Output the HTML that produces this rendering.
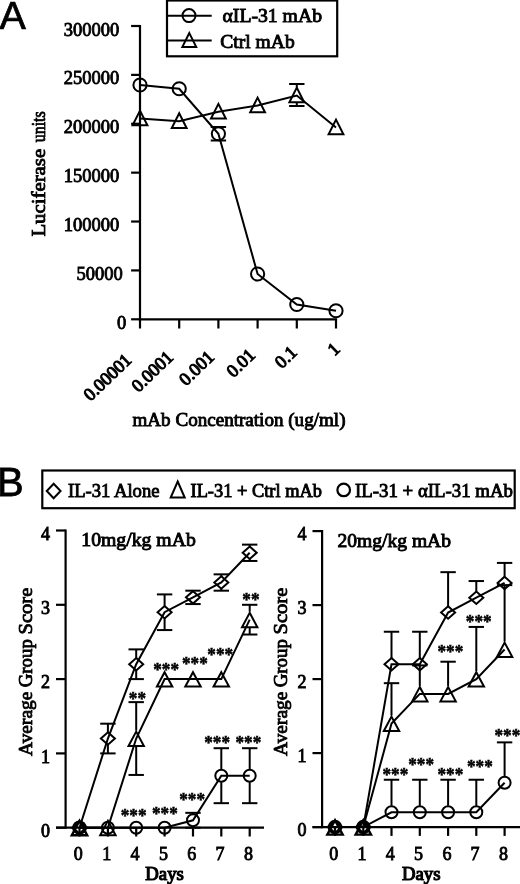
<!DOCTYPE html>
<html lang="en">
<head>
<meta charset="utf-8">
<title>Figure</title>
<style>
html,body{margin:0;padding:0;background:#fff;}
body{width:520px;height:884px;overflow:hidden;}
svg{display:block;}
</style>
</head>
<body>
<svg width="520" height="884" viewBox="0 0 520 884" stroke="#000" fill="none" stroke-linecap="butt">
<rect x="0" y="0" width="520" height="884" fill="#fff" stroke="none"/>

<text x="-0.5" y="29.3" font-family='"Liberation Sans", sans-serif' font-size="39.5" fill="#000" stroke="#000" stroke-width="0.7">A</text>
<text x="-3.1" y="496.3" font-family='"Liberation Sans", sans-serif' font-size="40" fill="#000" stroke="#000" stroke-width="0.8">B</text>
<line x1="140.00" y1="24.90" x2="140.00" y2="320.40" stroke-width="2.2"/>
<line x1="138.90" y1="319.30" x2="337.10" y2="319.30" stroke-width="2.2"/>
<line x1="131.10" y1="26.00" x2="140.00" y2="26.00" stroke-width="2.2"/>
<text x="119.30" y="35.50" font-family='"Liberation Serif", serif' font-size="18.5" font-weight="normal" text-anchor="end" fill="#000" stroke="#000" stroke-width="0.85">300000</text>
<line x1="131.10" y1="74.88" x2="140.00" y2="74.88" stroke-width="2.2"/>
<text x="119.30" y="84.38" font-family='"Liberation Serif", serif' font-size="18.5" font-weight="normal" text-anchor="end" fill="#000" stroke="#000" stroke-width="0.85">250000</text>
<line x1="131.10" y1="123.77" x2="140.00" y2="123.77" stroke-width="2.2"/>
<text x="119.30" y="133.27" font-family='"Liberation Serif", serif' font-size="18.5" font-weight="normal" text-anchor="end" fill="#000" stroke="#000" stroke-width="0.85">200000</text>
<line x1="131.10" y1="172.65" x2="140.00" y2="172.65" stroke-width="2.2"/>
<text x="119.30" y="182.15" font-family='"Liberation Serif", serif' font-size="18.5" font-weight="normal" text-anchor="end" fill="#000" stroke="#000" stroke-width="0.85">150000</text>
<line x1="131.10" y1="221.53" x2="140.00" y2="221.53" stroke-width="2.2"/>
<text x="119.30" y="231.03" font-family='"Liberation Serif", serif' font-size="18.5" font-weight="normal" text-anchor="end" fill="#000" stroke="#000" stroke-width="0.85">100000</text>
<line x1="131.10" y1="270.42" x2="140.00" y2="270.42" stroke-width="2.2"/>
<text x="122.80" y="279.92" font-family='"Liberation Serif", serif' font-size="18.5" font-weight="normal" text-anchor="end" fill="#000" stroke="#000" stroke-width="0.85">50000</text>
<line x1="131.10" y1="319.30" x2="140.00" y2="319.30" stroke-width="2.2"/>
<text x="126.20" y="328.80" font-family='"Liberation Serif", serif' font-size="18.5" font-weight="normal" text-anchor="end" fill="#000" stroke="#000" stroke-width="0.85">0</text>
<line x1="140.00" y1="319.30" x2="140.00" y2="328.50" stroke-width="2.2"/>
<line x1="179.20" y1="319.30" x2="179.20" y2="328.50" stroke-width="2.2"/>
<line x1="218.40" y1="319.30" x2="218.40" y2="328.50" stroke-width="2.2"/>
<line x1="257.60" y1="319.30" x2="257.60" y2="328.50" stroke-width="2.2"/>
<line x1="296.80" y1="319.30" x2="296.80" y2="328.50" stroke-width="2.2"/>
<line x1="336.00" y1="319.30" x2="336.00" y2="328.50" stroke-width="2.2"/>
<text transform="translate(107.3,377.1) rotate(-44)" x="0" y="6.1" font-family='"Liberation Serif", serif' font-size="18" text-anchor="middle" fill="#000" stroke="#000" stroke-width="1.1">0.00001</text>
<text transform="translate(152.1,371.3) rotate(-44)" x="0" y="6.1" font-family='"Liberation Serif", serif' font-size="18" text-anchor="middle" fill="#000" stroke="#000" stroke-width="1.1">0.0001</text>
<text transform="translate(196.3,368.0) rotate(-44)" x="0" y="6.1" font-family='"Liberation Serif", serif' font-size="18" text-anchor="middle" fill="#000" stroke="#000" stroke-width="1.1">0.001</text>
<text transform="translate(240.6,362.9) rotate(-44)" x="0" y="6.1" font-family='"Liberation Serif", serif' font-size="18" text-anchor="middle" fill="#000" stroke="#000" stroke-width="1.1">0.01</text>
<text transform="translate(285.6,357.0) rotate(-44)" x="0" y="6.1" font-family='"Liberation Serif", serif' font-size="18" text-anchor="middle" fill="#000" stroke="#000" stroke-width="1.1">0.1</text>
<text transform="translate(333.5,349.0) rotate(-44)" x="0" y="6.1" font-family='"Liberation Serif", serif' font-size="18" text-anchor="middle" fill="#000" stroke="#000" stroke-width="1.1">1</text>
<text x="132.50" y="426.00" font-family='"Liberation Serif", serif' font-size="18" font-weight="normal" text-anchor="start" fill="#000" stroke="#000" stroke-width="0.85" textLength="213" lengthAdjust="spacingAndGlyphs">mAb Concentration (ug/ml)</text>
<text transform="translate(45.2,236.6) rotate(-90)" font-family='"Liberation Serif", serif' font-size="19.5" fill="#000" stroke="#000" stroke-width="0.85" textLength="87.8" lengthAdjust="spacingAndGlyphs">Luciferase</text>
<text transform="translate(45.2,142.3) rotate(-90)" font-family='"Liberation Serif", serif' font-size="19.5" fill="#000" stroke="#000" stroke-width="0.85" textLength="31.0" lengthAdjust="spacingAndGlyphs">units</text>
<polyline points="140.00,85.00 179.20,88.75 218.40,133.75 257.60,274.00 296.80,304.50 336.00,310.75" fill="none" stroke-width="2.0"/>
<line x1="210.70" y1="127.00" x2="226.10" y2="127.00" stroke-width="2.0"/>
<line x1="210.70" y1="140.50" x2="226.10" y2="140.50" stroke-width="2.0"/>
<circle cx="140.00" cy="85.00" r="6.6" fill="none" stroke-width="2.0"/>
<circle cx="179.20" cy="88.75" r="6.6" fill="none" stroke-width="2.0"/>
<circle cx="218.40" cy="133.75" r="6.6" fill="none" stroke-width="2.0"/>
<circle cx="257.60" cy="274.00" r="6.6" fill="none" stroke-width="2.0"/>
<circle cx="296.80" cy="304.50" r="6.6" fill="none" stroke-width="2.0"/>
<circle cx="336.00" cy="310.75" r="6.6" fill="none" stroke-width="2.0"/>
<polyline points="140.00,118.50 179.20,121.20 218.40,111.80 257.60,105.50 296.80,95.50 336.00,127.50" fill="none" stroke-width="2.0"/>
<line x1="296.80" y1="84.00" x2="296.80" y2="87.50" stroke-width="2.0"/>
<line x1="296.80" y1="102.50" x2="296.80" y2="106.00" stroke-width="2.0"/>
<line x1="289.10" y1="84.00" x2="304.50" y2="84.00" stroke-width="2.0"/>
<line x1="289.10" y1="106.00" x2="304.50" y2="106.00" stroke-width="2.0"/>
<polygon points="140.00,110.60 147.40,125.30 132.60,125.30" fill="none" stroke-width="2.0" stroke-linejoin="miter"/>
<polygon points="179.20,113.30 186.60,128.00 171.80,128.00" fill="none" stroke-width="2.0" stroke-linejoin="miter"/>
<polygon points="218.40,103.90 225.80,118.60 211.00,118.60" fill="none" stroke-width="2.0" stroke-linejoin="miter"/>
<polygon points="257.60,97.60 265.00,112.30 250.20,112.30" fill="none" stroke-width="2.0" stroke-linejoin="miter"/>
<polygon points="296.80,87.60 304.20,102.30 289.40,102.30" fill="none" stroke-width="2.0" stroke-linejoin="miter"/>
<polygon points="336.00,119.60 343.40,134.30 328.60,134.30" fill="none" stroke-width="2.0" stroke-linejoin="miter"/>
<rect x="167" y="0.5" width="170.2" height="55.8" fill="#fff" stroke-width="2.2"/>
<line x1="167.00" y1="15.80" x2="211.70" y2="15.80" stroke-width="2.0"/>
<circle cx="189.00" cy="15.60" r="6.5" fill="none" stroke-width="2.0"/>
<line x1="167.00" y1="40.50" x2="211.70" y2="40.50" stroke-width="2.0"/>
<polygon points="189.30,33.10 196.20,46.90 182.40,46.90" fill="none" stroke-width="2.0" stroke-linejoin="miter"/>
<text x="222.50" y="22.20" font-family='"Liberation Serif", serif' font-size="18" font-weight="normal" text-anchor="start" fill="#000" stroke="#000" stroke-width="0.85" textLength="99.5" lengthAdjust="spacingAndGlyphs">&#945;IL-31 mAb</text>
<text x="220.20" y="47.50" font-family='"Liberation Serif", serif' font-size="18" font-weight="normal" text-anchor="start" fill="#000" stroke="#000" stroke-width="0.85" textLength="74.5" lengthAdjust="spacingAndGlyphs">Ctrl mAb</text>
<rect x="42.3" y="470.5" width="472.4" height="37.7" fill="#fff" stroke-width="2.2"/>
<polygon points="53.65,483.80 60.55,491.00 53.65,498.20 46.75,491.00" fill="none" stroke-width="2.0" stroke-linejoin="miter"/>
<text x="68.00" y="496.50" font-family='"Liberation Serif", serif' font-size="18" font-weight="normal" text-anchor="start" fill="#000" stroke="#000" stroke-width="0.85" textLength="91.5" lengthAdjust="spacingAndGlyphs">IL-31 Alone</text>
<polygon points="177.70,481.50 184.70,497.50 170.70,497.50" fill="none" stroke-width="2.0" stroke-linejoin="miter"/>
<text x="190.50" y="496.50" font-family='"Liberation Serif", serif' font-size="18" font-weight="normal" text-anchor="start" fill="#000" stroke="#000" stroke-width="0.85" textLength="131.5" lengthAdjust="spacingAndGlyphs">IL-31 + Ctrl mAb</text>
<circle cx="343.70" cy="489.90" r="6.3" fill="none" stroke-width="2.2"/>
<text x="355.00" y="496.50" font-family='"Liberation Serif", serif' font-size="18" font-weight="normal" text-anchor="start" fill="#000" stroke="#000" stroke-width="0.85" textLength="158" lengthAdjust="spacingAndGlyphs">IL-31 + &#945;IL-31 mAb</text>
<line x1="65.60" y1="529.40" x2="65.60" y2="828.80" stroke-width="2.2"/>
<line x1="56.00" y1="827.70" x2="65.60" y2="827.70" stroke-width="2.2"/>
<text x="50.10" y="837.00" font-family='"Liberation Serif", serif' font-size="18" font-weight="normal" text-anchor="end" fill="#000" stroke="#000" stroke-width="0.85">0</text>
<line x1="56.00" y1="753.40" x2="65.60" y2="753.40" stroke-width="2.2"/>
<text x="50.10" y="762.70" font-family='"Liberation Serif", serif' font-size="18" font-weight="normal" text-anchor="end" fill="#000" stroke="#000" stroke-width="0.85">1</text>
<line x1="56.00" y1="679.10" x2="65.60" y2="679.10" stroke-width="2.2"/>
<text x="50.10" y="688.40" font-family='"Liberation Serif", serif' font-size="18" font-weight="normal" text-anchor="end" fill="#000" stroke="#000" stroke-width="0.85">2</text>
<line x1="56.00" y1="604.80" x2="65.60" y2="604.80" stroke-width="2.2"/>
<text x="50.10" y="614.10" font-family='"Liberation Serif", serif' font-size="18" font-weight="normal" text-anchor="end" fill="#000" stroke="#000" stroke-width="0.85">3</text>
<line x1="56.00" y1="530.50" x2="65.60" y2="530.50" stroke-width="2.2"/>
<text x="50.10" y="539.80" font-family='"Liberation Serif", serif' font-size="18" font-weight="normal" text-anchor="end" fill="#000" stroke="#000" stroke-width="0.85">4</text>
<text x="81.30" y="545.90" font-family='"Liberation Serif", serif' font-size="18" font-weight="normal" text-anchor="start" fill="#000" stroke="#000" stroke-width="0.85" textLength="114.5" lengthAdjust="spacingAndGlyphs">10mg/kg mAb</text>
<text transform="translate(32.2,755.9) rotate(-90)" font-family='"Liberation Serif", serif' font-size="19.5" fill="#000" stroke="#000" stroke-width="0.85" textLength="64.2" lengthAdjust="spacingAndGlyphs">Average</text>
<text transform="translate(32.2,687.2) rotate(-90)" font-family='"Liberation Serif", serif' font-size="19.5" fill="#000" stroke="#000" stroke-width="0.85" textLength="48.0" lengthAdjust="spacingAndGlyphs">Group</text>
<text transform="translate(32.2,634.4) rotate(-90)" font-family='"Liberation Serif", serif' font-size="19.5" fill="#000" stroke="#000" stroke-width="0.85" textLength="46.7" lengthAdjust="spacingAndGlyphs">Score</text>
<text x="78.30" y="859.60" font-family='"Liberation Serif", serif' font-size="18" font-weight="normal" text-anchor="middle" fill="#000" stroke="#000" stroke-width="0.85">0</text>
<text x="106.70" y="859.60" font-family='"Liberation Serif", serif' font-size="18" font-weight="normal" text-anchor="middle" fill="#000" stroke="#000" stroke-width="0.85">1</text>
<text x="135.00" y="859.60" font-family='"Liberation Serif", serif' font-size="18" font-weight="normal" text-anchor="middle" fill="#000" stroke="#000" stroke-width="0.85">4</text>
<text x="163.40" y="859.60" font-family='"Liberation Serif", serif' font-size="18" font-weight="normal" text-anchor="middle" fill="#000" stroke="#000" stroke-width="0.85">5</text>
<text x="191.80" y="859.60" font-family='"Liberation Serif", serif' font-size="18" font-weight="normal" text-anchor="middle" fill="#000" stroke="#000" stroke-width="0.85">6</text>
<text x="220.10" y="859.60" font-family='"Liberation Serif", serif' font-size="18" font-weight="normal" text-anchor="middle" fill="#000" stroke="#000" stroke-width="0.85">7</text>
<text x="248.50" y="859.60" font-family='"Liberation Serif", serif' font-size="18" font-weight="normal" text-anchor="middle" fill="#000" stroke="#000" stroke-width="0.85">8</text>
<text x="164.60" y="879.50" font-family='"Liberation Serif", serif' font-size="18" font-weight="normal" text-anchor="middle" fill="#000" stroke="#000" stroke-width="1.15" textLength="38.5" lengthAdjust="spacingAndGlyphs">Days</text>
<polyline points="79.50,827.70 107.90,738.54 136.20,664.24 164.60,612.23 193.00,597.37 221.30,582.51 249.70,552.79" fill="none" stroke-width="2.0"/>
<line x1="107.90" y1="723.68" x2="107.90" y2="732.24" stroke-width="2.0"/>
<line x1="107.90" y1="744.84" x2="107.90" y2="753.40" stroke-width="2.0"/>
<line x1="100.20" y1="723.68" x2="115.60" y2="723.68" stroke-width="2.0"/>
<line x1="100.20" y1="753.40" x2="115.60" y2="753.40" stroke-width="2.0"/>
<line x1="136.20" y1="649.38" x2="136.20" y2="657.94" stroke-width="2.0"/>
<line x1="136.20" y1="670.54" x2="136.20" y2="679.10" stroke-width="2.0"/>
<line x1="128.50" y1="649.38" x2="143.90" y2="649.38" stroke-width="2.0"/>
<line x1="128.50" y1="679.10" x2="143.90" y2="679.10" stroke-width="2.0"/>
<line x1="164.60" y1="594.40" x2="164.60" y2="605.93" stroke-width="2.0"/>
<line x1="164.60" y1="618.53" x2="164.60" y2="630.06" stroke-width="2.0"/>
<line x1="156.90" y1="594.40" x2="172.30" y2="594.40" stroke-width="2.0"/>
<line x1="156.90" y1="630.06" x2="172.30" y2="630.06" stroke-width="2.0"/>
<line x1="193.00" y1="590.68" x2="193.00" y2="591.07" stroke-width="2.0"/>
<line x1="193.00" y1="603.67" x2="193.00" y2="604.06" stroke-width="2.0"/>
<line x1="185.30" y1="590.68" x2="200.70" y2="590.68" stroke-width="2.0"/>
<line x1="185.30" y1="604.06" x2="200.70" y2="604.06" stroke-width="2.0"/>
<line x1="221.30" y1="574.34" x2="221.30" y2="576.21" stroke-width="2.0"/>
<line x1="221.30" y1="588.81" x2="221.30" y2="590.68" stroke-width="2.0"/>
<line x1="213.60" y1="574.34" x2="229.00" y2="574.34" stroke-width="2.0"/>
<line x1="213.60" y1="590.68" x2="229.00" y2="590.68" stroke-width="2.0"/>
<line x1="249.70" y1="544.62" x2="249.70" y2="546.49" stroke-width="2.0"/>
<line x1="249.70" y1="559.09" x2="249.70" y2="560.96" stroke-width="2.0"/>
<line x1="242.00" y1="544.62" x2="257.40" y2="544.62" stroke-width="2.0"/>
<line x1="242.00" y1="560.96" x2="257.40" y2="560.96" stroke-width="2.0"/>
<polygon points="79.50,821.50 86.50,827.70 79.50,833.90 72.50,827.70" fill="none" stroke-width="2.5" stroke-linejoin="miter"/>
<polygon points="107.90,732.34 114.90,738.54 107.90,744.74 100.90,738.54" fill="none" stroke-width="2.0" stroke-linejoin="miter"/>
<polygon points="136.20,658.04 143.20,664.24 136.20,670.44 129.20,664.24" fill="none" stroke-width="2.0" stroke-linejoin="miter"/>
<polygon points="164.60,606.03 171.60,612.23 164.60,618.43 157.60,612.23" fill="none" stroke-width="2.0" stroke-linejoin="miter"/>
<polygon points="193.00,591.17 200.00,597.37 193.00,603.57 186.00,597.37" fill="none" stroke-width="2.0" stroke-linejoin="miter"/>
<polygon points="221.30,576.31 228.30,582.51 221.30,588.71 214.30,582.51" fill="none" stroke-width="2.0" stroke-linejoin="miter"/>
<polygon points="249.70,546.59 256.70,552.79 249.70,558.99 242.70,552.79" fill="none" stroke-width="2.0" stroke-linejoin="miter"/>
<polyline points="79.50,827.70 107.90,827.70 136.20,738.54 164.60,679.10 193.00,679.10 221.30,679.10 249.70,619.66" fill="none" stroke-width="2.0"/>
<line x1="136.20" y1="702.13" x2="136.20" y2="730.54" stroke-width="2.0"/>
<line x1="136.20" y1="746.54" x2="136.20" y2="774.95" stroke-width="2.0"/>
<line x1="128.50" y1="702.13" x2="143.90" y2="702.13" stroke-width="2.0"/>
<line x1="128.50" y1="774.95" x2="143.90" y2="774.95" stroke-width="2.0"/>
<line x1="249.70" y1="604.80" x2="249.70" y2="611.66" stroke-width="2.0"/>
<line x1="249.70" y1="627.66" x2="249.70" y2="634.52" stroke-width="2.0"/>
<line x1="242.00" y1="604.80" x2="257.40" y2="604.80" stroke-width="2.0"/>
<line x1="242.00" y1="634.52" x2="257.40" y2="634.52" stroke-width="2.0"/>
<polygon points="79.50,820.80 87.20,835.20 71.80,835.20" fill="none" stroke-width="2.4" stroke-linejoin="miter"/>
<polygon points="107.90,820.80 115.60,835.20 100.20,835.20" fill="none" stroke-width="2.0" stroke-linejoin="miter"/>
<polygon points="136.20,731.64 143.90,746.04 128.50,746.04" fill="none" stroke-width="2.0" stroke-linejoin="miter"/>
<polygon points="164.60,672.20 172.30,686.60 156.90,686.60" fill="none" stroke-width="2.0" stroke-linejoin="miter"/>
<polygon points="193.00,672.20 200.70,686.60 185.30,686.60" fill="none" stroke-width="2.0" stroke-linejoin="miter"/>
<polygon points="221.30,672.20 229.00,686.60 213.60,686.60" fill="none" stroke-width="2.0" stroke-linejoin="miter"/>
<polygon points="249.70,612.76 257.40,627.16 242.00,627.16" fill="none" stroke-width="2.0" stroke-linejoin="miter"/>
<polyline points="79.50,827.70 107.90,827.70 136.20,827.70 164.60,827.70 193.00,820.27 221.30,775.69 249.70,775.69" fill="none" stroke-width="2.0"/>
<line x1="193.00" y1="812.84" x2="193.00" y2="813.77" stroke-width="2.0"/>
<line x1="193.00" y1="826.77" x2="193.00" y2="827.70" stroke-width="2.0"/>
<line x1="185.30" y1="812.84" x2="200.70" y2="812.84" stroke-width="2.0"/>
<line x1="185.30" y1="827.70" x2="200.70" y2="827.70" stroke-width="2.0"/>
<line x1="221.30" y1="748.20" x2="221.30" y2="769.19" stroke-width="2.0"/>
<line x1="221.30" y1="782.19" x2="221.30" y2="803.18" stroke-width="2.0"/>
<line x1="213.60" y1="748.20" x2="229.00" y2="748.20" stroke-width="2.0"/>
<line x1="213.60" y1="803.18" x2="229.00" y2="803.18" stroke-width="2.0"/>
<line x1="249.70" y1="748.20" x2="249.70" y2="769.19" stroke-width="2.0"/>
<line x1="249.70" y1="782.19" x2="249.70" y2="803.18" stroke-width="2.0"/>
<line x1="242.00" y1="748.20" x2="257.40" y2="748.20" stroke-width="2.0"/>
<line x1="242.00" y1="803.18" x2="257.40" y2="803.18" stroke-width="2.0"/>
<circle cx="79.50" cy="827.70" r="6.0" fill="none" stroke-width="2.5"/>
<circle cx="107.90" cy="827.70" r="6.0" fill="none" stroke-width="2.0"/>
<circle cx="136.20" cy="827.70" r="6.0" fill="none" stroke-width="2.0"/>
<circle cx="164.60" cy="827.70" r="6.0" fill="none" stroke-width="2.0"/>
<circle cx="193.00" cy="820.27" r="6.0" fill="none" stroke-width="2.0"/>
<circle cx="221.30" cy="775.69" r="6.0" fill="none" stroke-width="2.0"/>
<circle cx="249.70" cy="775.69" r="6.0" fill="none" stroke-width="2.0"/>
<line x1="56.00" y1="827.70" x2="264.00" y2="827.70" stroke-width="2.2"/>
<line x1="79.50" y1="827.70" x2="79.50" y2="836.50" stroke-width="2.2"/>
<line x1="107.90" y1="827.70" x2="107.90" y2="836.50" stroke-width="2.2"/>
<line x1="136.20" y1="827.70" x2="136.20" y2="836.50" stroke-width="2.2"/>
<line x1="164.60" y1="827.70" x2="164.60" y2="836.50" stroke-width="2.2"/>
<line x1="193.00" y1="827.70" x2="193.00" y2="836.50" stroke-width="2.2"/>
<line x1="221.30" y1="827.70" x2="221.30" y2="836.50" stroke-width="2.2"/>
<line x1="249.70" y1="827.70" x2="249.70" y2="836.50" stroke-width="2.2"/>
<text x="128.80" y="704.50" font-family='"Liberation Serif", serif' font-size="18" font-weight="bold" text-anchor="start" fill="#000" stroke="#000" stroke-width="0.5" textLength="17.2" lengthAdjust="spacingAndGlyphs">**</text>
<text x="153.20" y="675.50" font-family='"Liberation Serif", serif' font-size="18" font-weight="bold" text-anchor="start" fill="#000" stroke="#000" stroke-width="0.5" textLength="25.799999999999997" lengthAdjust="spacingAndGlyphs">***</text>
<text x="182.00" y="670.00" font-family='"Liberation Serif", serif' font-size="18" font-weight="bold" text-anchor="start" fill="#000" stroke="#000" stroke-width="0.5" textLength="25.799999999999997" lengthAdjust="spacingAndGlyphs">***</text>
<text x="207.30" y="660.50" font-family='"Liberation Serif", serif' font-size="18" font-weight="bold" text-anchor="start" fill="#000" stroke="#000" stroke-width="0.5" textLength="25.799999999999997" lengthAdjust="spacingAndGlyphs">***</text>
<text x="242.30" y="605.50" font-family='"Liberation Serif", serif' font-size="18" font-weight="bold" text-anchor="start" fill="#000" stroke="#000" stroke-width="0.5" textLength="17.2" lengthAdjust="spacingAndGlyphs">**</text>
<text x="120.70" y="821.50" font-family='"Liberation Serif", serif' font-size="18" font-weight="bold" text-anchor="start" fill="#000" stroke="#000" stroke-width="0.5" textLength="25.799999999999997" lengthAdjust="spacingAndGlyphs">***</text>
<text x="152.00" y="819.50" font-family='"Liberation Serif", serif' font-size="18" font-weight="bold" text-anchor="start" fill="#000" stroke="#000" stroke-width="0.5" textLength="25.799999999999997" lengthAdjust="spacingAndGlyphs">***</text>
<text x="179.20" y="805.50" font-family='"Liberation Serif", serif' font-size="18" font-weight="bold" text-anchor="start" fill="#000" stroke="#000" stroke-width="0.5" textLength="25.799999999999997" lengthAdjust="spacingAndGlyphs">***</text>
<text x="204.20" y="748.50" font-family='"Liberation Serif", serif' font-size="18" font-weight="bold" text-anchor="start" fill="#000" stroke="#000" stroke-width="0.5" textLength="25.799999999999997" lengthAdjust="spacingAndGlyphs">***</text>
<text x="235.50" y="748.50" font-family='"Liberation Serif", serif' font-size="18" font-weight="bold" text-anchor="start" fill="#000" stroke="#000" stroke-width="0.5" textLength="25.799999999999997" lengthAdjust="spacingAndGlyphs">***</text>
<line x1="322.10" y1="530.00" x2="322.10" y2="828.20" stroke-width="2.2"/>
<line x1="312.50" y1="827.10" x2="322.10" y2="827.10" stroke-width="2.2"/>
<text x="306.60" y="836.40" font-family='"Liberation Serif", serif' font-size="18" font-weight="normal" text-anchor="end" fill="#000" stroke="#000" stroke-width="0.85">0</text>
<line x1="312.50" y1="753.10" x2="322.10" y2="753.10" stroke-width="2.2"/>
<text x="306.60" y="762.40" font-family='"Liberation Serif", serif' font-size="18" font-weight="normal" text-anchor="end" fill="#000" stroke="#000" stroke-width="0.85">1</text>
<line x1="312.50" y1="679.10" x2="322.10" y2="679.10" stroke-width="2.2"/>
<text x="306.60" y="688.40" font-family='"Liberation Serif", serif' font-size="18" font-weight="normal" text-anchor="end" fill="#000" stroke="#000" stroke-width="0.85">2</text>
<line x1="312.50" y1="605.10" x2="322.10" y2="605.10" stroke-width="2.2"/>
<text x="306.60" y="614.40" font-family='"Liberation Serif", serif' font-size="18" font-weight="normal" text-anchor="end" fill="#000" stroke="#000" stroke-width="0.85">3</text>
<line x1="312.50" y1="531.10" x2="322.10" y2="531.10" stroke-width="2.2"/>
<text x="306.60" y="540.40" font-family='"Liberation Serif", serif' font-size="18" font-weight="normal" text-anchor="end" fill="#000" stroke="#000" stroke-width="0.85">4</text>
<text x="337.50" y="546.50" font-family='"Liberation Serif", serif' font-size="18" font-weight="normal" text-anchor="start" fill="#000" stroke="#000" stroke-width="0.85" textLength="113.5" lengthAdjust="spacingAndGlyphs">20mg/kg mAb</text>
<text transform="translate(287.2,755.9) rotate(-90)" font-family='"Liberation Serif", serif' font-size="19.5" fill="#000" stroke="#000" stroke-width="0.85" textLength="64.2" lengthAdjust="spacingAndGlyphs">Average</text>
<text transform="translate(287.2,687.2) rotate(-90)" font-family='"Liberation Serif", serif' font-size="19.5" fill="#000" stroke="#000" stroke-width="0.85" textLength="48.0" lengthAdjust="spacingAndGlyphs">Group</text>
<text transform="translate(287.2,634.4) rotate(-90)" font-family='"Liberation Serif", serif' font-size="19.5" fill="#000" stroke="#000" stroke-width="0.85" textLength="46.7" lengthAdjust="spacingAndGlyphs">Score</text>
<text x="333.80" y="859.60" font-family='"Liberation Serif", serif' font-size="18" font-weight="normal" text-anchor="middle" fill="#000" stroke="#000" stroke-width="0.85">0</text>
<text x="362.10" y="859.60" font-family='"Liberation Serif", serif' font-size="18" font-weight="normal" text-anchor="middle" fill="#000" stroke="#000" stroke-width="0.85">1</text>
<text x="390.30" y="859.60" font-family='"Liberation Serif", serif' font-size="18" font-weight="normal" text-anchor="middle" fill="#000" stroke="#000" stroke-width="0.85">4</text>
<text x="418.60" y="859.60" font-family='"Liberation Serif", serif' font-size="18" font-weight="normal" text-anchor="middle" fill="#000" stroke="#000" stroke-width="0.85">5</text>
<text x="446.90" y="859.60" font-family='"Liberation Serif", serif' font-size="18" font-weight="normal" text-anchor="middle" fill="#000" stroke="#000" stroke-width="0.85">6</text>
<text x="475.10" y="859.60" font-family='"Liberation Serif", serif' font-size="18" font-weight="normal" text-anchor="middle" fill="#000" stroke="#000" stroke-width="0.85">7</text>
<text x="503.40" y="859.60" font-family='"Liberation Serif", serif' font-size="18" font-weight="normal" text-anchor="middle" fill="#000" stroke="#000" stroke-width="0.85">8</text>
<text x="421.20" y="879.50" font-family='"Liberation Serif", serif' font-size="18" font-weight="normal" text-anchor="middle" fill="#000" stroke="#000" stroke-width="1.15" textLength="38.5" lengthAdjust="spacingAndGlyphs">Days</text>
<polyline points="335.00,827.10 363.30,827.10 391.50,664.30 419.80,664.30 448.10,612.50 476.30,597.70 504.60,582.90" fill="none" stroke-width="2.0"/>
<line x1="391.50" y1="631.74" x2="391.50" y2="658.00" stroke-width="2.0"/>
<line x1="383.80" y1="631.74" x2="399.20" y2="631.74" stroke-width="2.0"/>
<line x1="419.80" y1="631.74" x2="419.80" y2="658.00" stroke-width="2.0"/>
<line x1="412.10" y1="631.74" x2="427.50" y2="631.74" stroke-width="2.0"/>
<line x1="448.10" y1="572.17" x2="448.10" y2="606.20" stroke-width="2.0"/>
<line x1="440.40" y1="572.17" x2="455.80" y2="572.17" stroke-width="2.0"/>
<line x1="476.30" y1="581.05" x2="476.30" y2="591.40" stroke-width="2.0"/>
<line x1="468.60" y1="581.05" x2="484.00" y2="581.05" stroke-width="2.0"/>
<line x1="504.60" y1="562.92" x2="504.60" y2="576.60" stroke-width="2.0"/>
<line x1="496.90" y1="562.92" x2="512.30" y2="562.92" stroke-width="2.0"/>
<polygon points="335.00,820.90 342.00,827.10 335.00,833.30 328.00,827.10" fill="none" stroke-width="2.5" stroke-linejoin="miter"/>
<polygon points="363.30,820.90 370.30,827.10 363.30,833.30 356.30,827.10" fill="none" stroke-width="2.5" stroke-linejoin="miter"/>
<polygon points="391.50,658.10 398.50,664.30 391.50,670.50 384.50,664.30" fill="none" stroke-width="2.0" stroke-linejoin="miter"/>
<polygon points="419.80,658.10 426.80,664.30 419.80,670.50 412.80,664.30" fill="none" stroke-width="2.0" stroke-linejoin="miter"/>
<polygon points="448.10,606.30 455.10,612.50 448.10,618.70 441.10,612.50" fill="none" stroke-width="2.0" stroke-linejoin="miter"/>
<polygon points="476.30,591.50 483.30,597.70 476.30,603.90 469.30,597.70" fill="none" stroke-width="2.0" stroke-linejoin="miter"/>
<polygon points="504.60,576.70 511.60,582.90 504.60,589.10 497.60,582.90" fill="none" stroke-width="2.0" stroke-linejoin="miter"/>
<polyline points="335.00,827.10 363.30,827.10 391.50,723.50 419.80,693.90 448.10,693.90 476.30,679.10 504.60,649.50" fill="none" stroke-width="2.0"/>
<line x1="391.50" y1="683.17" x2="391.50" y2="715.50" stroke-width="2.0"/>
<line x1="383.80" y1="683.17" x2="399.20" y2="683.17" stroke-width="2.0"/>
<line x1="419.80" y1="665.41" x2="419.80" y2="685.90" stroke-width="2.0"/>
<line x1="412.10" y1="665.41" x2="427.50" y2="665.41" stroke-width="2.0"/>
<line x1="448.10" y1="661.71" x2="448.10" y2="685.90" stroke-width="2.0"/>
<line x1="440.40" y1="661.71" x2="455.80" y2="661.71" stroke-width="2.0"/>
<line x1="476.30" y1="626.93" x2="476.30" y2="671.10" stroke-width="2.0"/>
<line x1="468.60" y1="626.93" x2="484.00" y2="626.93" stroke-width="2.0"/>
<line x1="504.60" y1="585.12" x2="504.60" y2="641.50" stroke-width="2.0"/>
<line x1="496.90" y1="585.12" x2="512.30" y2="585.12" stroke-width="2.0"/>
<polygon points="335.00,820.20 342.70,834.60 327.30,834.60" fill="none" stroke-width="2.4" stroke-linejoin="miter"/>
<polygon points="363.30,820.20 371.00,834.60 355.60,834.60" fill="none" stroke-width="2.4" stroke-linejoin="miter"/>
<polygon points="391.50,716.60 399.20,731.00 383.80,731.00" fill="none" stroke-width="2.0" stroke-linejoin="miter"/>
<polygon points="419.80,687.00 427.50,701.40 412.10,701.40" fill="none" stroke-width="2.0" stroke-linejoin="miter"/>
<polygon points="448.10,687.00 455.80,701.40 440.40,701.40" fill="none" stroke-width="2.0" stroke-linejoin="miter"/>
<polygon points="476.30,672.20 484.00,686.60 468.60,686.60" fill="none" stroke-width="2.0" stroke-linejoin="miter"/>
<polygon points="504.60,642.60 512.30,657.00 496.90,657.00" fill="none" stroke-width="2.0" stroke-linejoin="miter"/>
<polyline points="335.00,827.10 363.30,827.10 391.50,812.30 419.80,812.30 448.10,812.30 476.30,812.30 504.60,782.70" fill="none" stroke-width="2.0"/>
<line x1="391.50" y1="779.74" x2="391.50" y2="805.80" stroke-width="2.0"/>
<line x1="383.80" y1="779.74" x2="399.20" y2="779.74" stroke-width="2.0"/>
<line x1="419.80" y1="779.74" x2="419.80" y2="805.80" stroke-width="2.0"/>
<line x1="412.10" y1="779.74" x2="427.50" y2="779.74" stroke-width="2.0"/>
<line x1="448.10" y1="779.74" x2="448.10" y2="805.80" stroke-width="2.0"/>
<line x1="440.40" y1="779.74" x2="455.80" y2="779.74" stroke-width="2.0"/>
<line x1="476.30" y1="779.74" x2="476.30" y2="805.80" stroke-width="2.0"/>
<line x1="468.60" y1="779.74" x2="484.00" y2="779.74" stroke-width="2.0"/>
<line x1="504.60" y1="742.37" x2="504.60" y2="776.20" stroke-width="2.0"/>
<line x1="496.90" y1="742.37" x2="512.30" y2="742.37" stroke-width="2.0"/>
<circle cx="335.00" cy="827.10" r="6.0" fill="none" stroke-width="2.5"/>
<circle cx="363.30" cy="827.10" r="6.0" fill="none" stroke-width="2.5"/>
<circle cx="391.50" cy="812.30" r="6.0" fill="none" stroke-width="2.0"/>
<circle cx="419.80" cy="812.30" r="6.0" fill="none" stroke-width="2.0"/>
<circle cx="448.10" cy="812.30" r="6.0" fill="none" stroke-width="2.0"/>
<circle cx="476.30" cy="812.30" r="6.0" fill="none" stroke-width="2.0"/>
<circle cx="504.60" cy="782.70" r="6.0" fill="none" stroke-width="2.0"/>
<line x1="312.50" y1="827.10" x2="520.00" y2="827.10" stroke-width="2.2"/>
<line x1="335.00" y1="827.10" x2="335.00" y2="835.90" stroke-width="2.2"/>
<line x1="363.30" y1="827.10" x2="363.30" y2="835.90" stroke-width="2.2"/>
<line x1="391.50" y1="827.10" x2="391.50" y2="835.90" stroke-width="2.2"/>
<line x1="419.80" y1="827.10" x2="419.80" y2="835.90" stroke-width="2.2"/>
<line x1="448.10" y1="827.10" x2="448.10" y2="835.90" stroke-width="2.2"/>
<line x1="476.30" y1="827.10" x2="476.30" y2="835.90" stroke-width="2.2"/>
<line x1="504.60" y1="827.10" x2="504.60" y2="835.90" stroke-width="2.2"/>
<text x="437.50" y="658.00" font-family='"Liberation Serif", serif' font-size="18" font-weight="bold" text-anchor="start" fill="#000" stroke="#000" stroke-width="0.5" textLength="25.799999999999997" lengthAdjust="spacingAndGlyphs">***</text>
<text x="465.80" y="627.80" font-family='"Liberation Serif", serif' font-size="18" font-weight="bold" text-anchor="start" fill="#000" stroke="#000" stroke-width="0.5" textLength="25.799999999999997" lengthAdjust="spacingAndGlyphs">***</text>
<text x="382.50" y="781.00" font-family='"Liberation Serif", serif' font-size="18" font-weight="bold" text-anchor="start" fill="#000" stroke="#000" stroke-width="0.5" textLength="25.799999999999997" lengthAdjust="spacingAndGlyphs">***</text>
<text x="408.20" y="770.50" font-family='"Liberation Serif", serif' font-size="18" font-weight="bold" text-anchor="start" fill="#000" stroke="#000" stroke-width="0.5" textLength="25.799999999999997" lengthAdjust="spacingAndGlyphs">***</text>
<text x="437.50" y="781.20" font-family='"Liberation Serif", serif' font-size="18" font-weight="bold" text-anchor="start" fill="#000" stroke="#000" stroke-width="0.5" textLength="25.799999999999997" lengthAdjust="spacingAndGlyphs">***</text>
<text x="467.00" y="773.30" font-family='"Liberation Serif", serif' font-size="18" font-weight="bold" text-anchor="start" fill="#000" stroke="#000" stroke-width="0.5" textLength="25.799999999999997" lengthAdjust="spacingAndGlyphs">***</text>
<text x="494.50" y="741.50" font-family='"Liberation Serif", serif' font-size="18" font-weight="bold" text-anchor="start" fill="#000" stroke="#000" stroke-width="0.5" textLength="25.799999999999997" lengthAdjust="spacingAndGlyphs">***</text>
</svg>
</body>
</html>
